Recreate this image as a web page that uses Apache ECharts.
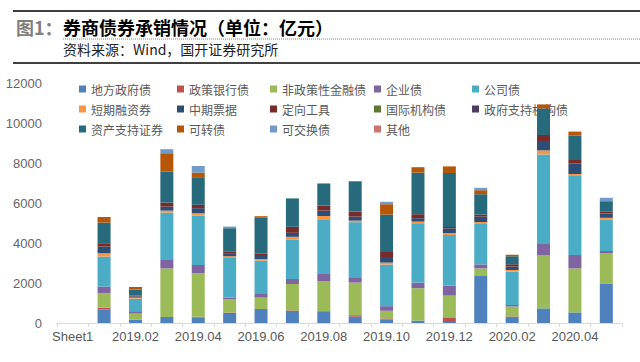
<!DOCTYPE html>
<html>
<head>
<meta charset="utf-8">
<script src="https://cdn.jsdelivr.net/npm/echarts@6/dist/echarts.min.js"></script>
<style>
html,body{margin:0;padding:0;background:#fff;}
#c{width:640px;height:362px;}
</style>
</head>
<body>
<div id="c"></div>
<script>
// ---- data ----
const categories = ['Sheet1','2019.01','2019.02','2019.03','2019.04','2019.05','2019.06','2019.07','2019.08','2019.09','2019.10','2019.11','2019.12','2020.01','2020.02','2020.03','2020.04','2020.05'];
const seriesNames = ['地方政府债','政策银行债','非政策性金融债','企业债','公司债','短期融资券','中期票据','定向工具','国际机构债','政府支持机构债','资产支持证券','可转债','可交换债','其他'];
const localGov      = [null, 670, 170, 300, 280, 450, 700, 600, 570, 320, 180, 120,   50, 2350, 300,  730,  530, 1980];
const policyBank    = [null, 100,   0,   0,  30,  70,   0,  30,  30,  70,  50,   0,  200,    0,  30,    0,    0,    0];
const nonPolicyFin  = [null, 720, 300, 2430, 2170, 680, 570, 1320, 1500, 1630, 380, 1620, 1120, 380, 490, 2670, 2200, 1500];
const enterprise    = [null, 330, 120, 420, 420,  70, 220, 250, 350, 270, 230, 280,  500,  200,  80,  550,  670,  120];
const corporate     = [null, 1500, 630, 2370, 2470, 2020, 1630, 1980, 2700, 2750, 2080, 2970, 2530, 2020, 1670, 4480, 3950, 1580];
const shortFin      = [null, 170,  50, 100, 120,  50,  80, 130, 200,  80, 100,  80,  100,  100,  80,  200,  100,   80];
const mtn           = [null, 330,  60, 200, 250, 120, 200, 200, 270, 200, 280, 170,  230,  270, 170,  470,  530,  220];
const ppn           = [null, 170,  40, 200, 170, 100,  80, 300, 250, 250, 250, 200,   70,  100, 120,  300,  170,   80];
const intlOrg       = [null,   0,   0,   0,   0,   0,   0,   0,   0,   0,   0,   0,    0,    0,   0,    0,    0,    0];
const govAgency     = [null,   0,   0,   0,   0,   0,   0,   0,   0,   0,   0,   0,    0,    0,   0,    0,    0,    0];
const abs           = [null, 1030, 300, 1550, 1380, 1180, 1780, 1420, 1080, 1500, 1870, 2080, 2700, 1020, 400, 1330, 1220, 530];
const convertible   = [null, 280, 130, 920, 230,   0,  80,   0,  30,  30, 520, 270,  330,  200,  70,  200,  200,    0];
const exchangeable  = [null,   0,   0, 200, 330,  80,   0,   0,   0,   0, 120,   0,    0,  120,   0,    0,    0,  170];
const others        = [null,   0,   0,   0,   0,   0,   0,   0,   0,   0,   0,   0,    0,    0,   0,    0,    0,    0];
const yTicks = {min: 0, max: 12000, interval: 2000};

const seriesData = [localGov, policyBank, nonPolicyFin, enterprise, corporate, shortFin, mtn, ppn, intlOrg, govAgency, abs, convertible, exchangeable, others];
const colors = ['#4F81BD','#C0504D','#9BBB59','#8064A2','#4BACC6','#F79646','#2C4D75','#772C2A','#5F7530','#4D3B62','#276A7C','#B65708','#729ACA','#CD7371'];

const chart = echarts.init(document.getElementById('c'), null, {renderer: 'svg'});

const legendCols = [
  {left: 79,  names: ['地方政府债','短期融资券','资产支持证券']},
  {left: 177, names: ['政策银行债','中期票据','可转债']},
  {left: 270, names: ['非政策性金融债','定向工具','可交换债']},
  {left: 374, names: ['企业债','国际机构债','其他']},
  {left: 472, names: ['公司债','政府支持机构债']}
];
const legendTextStyle = {fontFamily: '"Noto Sans CJK SC"', fontSize: 12, color: '#595959', lineHeight: 14};

const option = {
  backgroundColor: '#fff',
  animation: false,
  color: colors,
  legend: legendCols.map(c => ({
    data: c.names,
    orient: 'vertical',
    left: c.left,
    top: 82,
    itemWidth: 7,
    itemHeight: 7,
    itemGap: 6,
    icon: 'rect',
    z: 1,
    padding: 0,
    textStyle: legendTextStyle,
    selectedMode: false
  })),
  grid: {left: 57, right: 18, top: 83, bottom: 39, containLabel: false},
  xAxis: {
    type: 'category',
    data: categories,
    axisLine: {lineStyle: {color: '#D9D9D9'}},
    axisTick: {show: true, interval: 0, length: 4, lineStyle: {color: '#D9D9D9'}},
    axisLabel: {interval: 1, color: '#595959', fontSize: 13, fontFamily: '"Liberation Sans", Arial', margin: 7}
  },
  yAxis: {
    type: 'value',
    min: yTicks.min, max: yTicks.max, interval: yTicks.interval,
    axisLine: {show: false},
    axisTick: {show: false},
    splitLine: {show: false},
    axisLabel: {color: '#666666', fontSize: 13, fontFamily: '"Liberation Sans", Arial', margin: 15, formatter: v => String(v)}
  },
  series: seriesNames.map((n, i) => ({
    name: n,
    type: 'bar',
    stack: 'total',
    barWidth: 13,
    z: 2,
    data: seriesData[i],
    itemStyle: {color: colors[i]}
  })),
  graphic: [
    {type: 'line', shape: {x1: 13, y1: 11, x2: 640, y2: 11}, style: {stroke: '#000', lineWidth: 1.5}},
    {type: 'text', left: 16, top: 18, style: {text: '图1：', fill: '#7F7F7F', font: 'bold 18px "Noto Sans CJK SC"'}},
    {type: 'text', left: 63, top: 18, style: {text: '券商债券承销情况（单位：亿元）', fill: '#000', font: 'bold 18px "Noto Sans CJK SC"'}},
    {type: 'line', shape: {x1: 63, y1: 39, x2: 640, y2: 39}, style: {stroke: '#888', lineWidth: 1, lineDash: [1, 1]}},
    {type: 'text', left: 63, top: 42, style: {text: '资料来源：Wind，国开证券研究所', fill: '#222', font: '14px "Noto Sans CJK SC"'}},
    {type: 'line', shape: {x1: 13, y1: 63, x2: 640, y2: 63}, style: {stroke: '#000', lineWidth: 1.5}}
  ]
};
chart.setOption(option);
</script>
</body>
</html>
